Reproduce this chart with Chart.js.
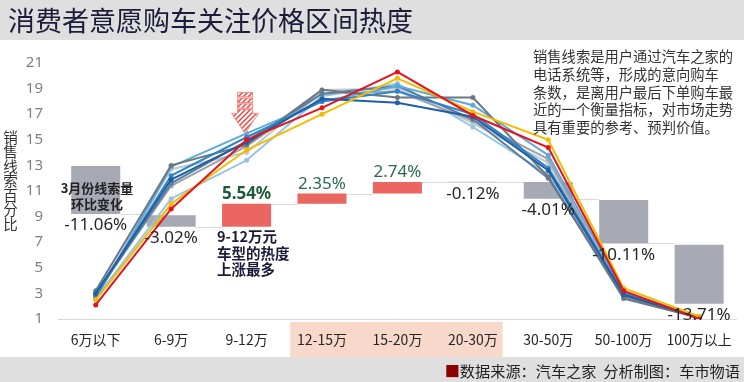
<!DOCTYPE html>
<html>
<head>
<meta charset="utf-8">
<script src="https://cdn.jsdelivr.net/npm/chart.js@4.4.1/dist/chart.umd.min.js"></script>
<style>
html,body{margin:0;padding:0;background:#fff;}
#wrap{position:relative;width:744px;height:382px;overflow:hidden;font-family:"Noto Sans CJK SC","Noto Sans",sans-serif;}
#titleBand{position:absolute;left:0;top:0;width:744px;height:40px;background:#DFDFDF;}
#footBand{position:absolute;left:0;top:357px;width:744px;height:25px;background:#DFDFDF;}
canvas{position:absolute;left:0;top:0;z-index:1;}
.txt{position:absolute;z-index:2;white-space:nowrap;}
#title{left:8px;top:1px;font-size:27px;line-height:37px;color:#1C1B3A;}
#foot{right:4px;top:358px;font-size:15.2px;line-height:24px;color:#222;}
#foot span{color:#8B0000;}
#ytitle{left:2px;top:130px;writing-mode:vertical-rl;text-orientation:upright;font-size:14.5px;line-height:16px;color:#333;}
#boxNote{left:50px;top:180px;width:94px;text-align:center;font-size:13px;line-height:16px;font-weight:bold;color:#222;}
#hotNote{left:217px;top:228px;font-size:14.5px;line-height:16.7px;font-weight:bold;color:#1A1A3A;}
#infoNote{left:533px;top:47px;font-size:14.3px;line-height:17.8px;color:#333;}
</style>
</head>
<body>
<div id="wrap">
  <div id="titleBand"></div>
  <div id="footBand"></div>
  <canvas id="c" width="744" height="382" style="width:744px;height:382px"></canvas>
  <div class="txt" id="title">消费者意愿购车关注价格区间热度</div>
  <div class="txt" id="foot"><span>■</span>数据来源：汽车之家&nbsp;&nbsp;分析制图：车市物语</div>
  <div class="txt" id="ytitle">销售线索百分比</div>
  <div class="txt" id="boxNote">3月份线索量<br>环比变化</div>
  <div class="txt" id="hotNote">9-12万元<br>车型的热度<br>上涨最多</div>
  <div class="txt" id="infoNote">销售线索是用户通过汽车之家的<br>电话系统等，形成的意向购车<br>条数，是离用户最后下单购车最<br>近的一个衡量指标，对市场走势<br>具有重要的参考、预判价值。</div>
</div>
<script>
// ---- data ----
const categories = ['6万以下','6-9万','9-12万','12-15万','15-20万','20-30万','30-50万','50-100万','100万以上'];
const yTicks = [1,3,5,7,9,11,13,15,17,19,21];

const seriesRed       = [2.1, 9.6, 15.0, 17.5, 20.3, 16.9, 14.4, 3.2, 1.0];
const seriesYellow    = [2.5, 10.0, 14.2, 17.0, 19.8, 17.2, 15.0, 3.4, 1.2];
const seriesDarkGray  = [3.2, 13.0, 14.6, 18.9, 18.3, 18.3, 12.1, 2.6, 1.1];
const seriesGray      = [3.0, 11.4, 14.5, 18.6, 18.8, 16.5, 13.5, 2.7, 1.1];
const seriesLightGray = [2.8, 12.7, 14.0, 18.9, 19.0, 16.3, 13.2, 2.8, 1.2];
const seriesDarkBlue  = [3.0, 11.9, 14.8, 18.2, 17.9, 16.8, 12.6, 2.9, 1.1];
const seriesBlue      = [2.8, 12.2, 15.2, 18.0, 18.8, 17.0, 12.8, 3.0, 1.1];
const seriesLightBlue = [2.6, 12.9, 15.5, 18.0, 19.2, 17.7, 13.8, 3.1, 1.2];
const seriesPaleBlue  = [2.6, 10.4, 13.4, 18.4, 19.4, 16.0, 12.3, 3.0, 1.2];
const seriesSteel     = [2.9, 11.6, 14.9, 18.6, 19.2, 16.6, 12.0, 2.8, 1.1];

const changePct  = [-11.06, -3.02, 5.54, 2.35, 2.74, -0.12, -4.01, -10.11, -13.71];
const changeLow  = [9.2, 8.2, 8.2, 10.0, 10.8, 11.67, 10.4, 6.9, 2.2];
const changeHigh = [12.95, 9.1, 10.0, 10.8, 11.7, 11.73, 11.7, 10.3, 6.8];
const hotRange = [3, 5];      // highlighted category band (index range)
const arrowCategory = 2;      // 9-12万
const arrowTipValue = 15.5;

// ---- build ----
const barData = changeLow.map((lo, i) => [lo, changeHigh[i]]);
const barColors = changePct.map(v => v >= 0 ? '#EC6661' : '#A7AAB4');

function lineDs(data, color, order){
  return {type:'line', data, borderColor:color, backgroundColor:color, borderWidth:2,
          pointRadius:2.5, pointBorderWidth:0, pointBackgroundColor:color, tension:0, order};
}

const pc = document.createElement('canvas'); pc.width = 5; pc.height = 5;
const pctx = pc.getContext('2d');
pctx.strokeStyle = '#E8463F'; pctx.lineWidth = 1.5;
pctx.beginPath();
pctx.moveTo(-1,1); pctx.lineTo(1,-1);
pctx.moveTo(0,5); pctx.lineTo(5,0);
pctx.moveTo(4,6); pctx.lineTo(6,4);
pctx.stroke();

const deco = {
  id:'deco',
  beforeDraw(chart){
    const {ctx, chartArea, scales:{x}} = chart;
    const step = x.getPixelForValue(1) - x.getPixelForValue(0);
    const x0 = x.getPixelForValue(hotRange[0]) - step/2 + 6;
    const x1 = x.getPixelForValue(hotRange[1]) + step/2 - 8;
    ctx.save();
    ctx.fillStyle = '#F7D8CA';
    ctx.fillRect(x0, chartArea.bottom + 3, x1 - x0, chart.height - 25 - chartArea.bottom - 3);
    ctx.restore();
  },
  beforeDatasetsDraw(chart){
    const {ctx, scales:{y}} = chart;
    const meta = chart.getDatasetMeta(0);
    ctx.save();
    ctx.strokeStyle = '#D9D9D9'; ctx.lineWidth = 1;
    for (let i = 0; i < meta.data.length - 1; i++){
      const a = meta.data[i], b = meta.data[i+1];
      const end = changePct[i] < 0 ? changeLow[i] : changeHigh[i];
      const yy = Math.round(y.getPixelForValue(end)) + 0.5;
      ctx.beginPath();
      ctx.moveTo(a.x + a.width/2, yy);
      ctx.lineTo(b.x - b.width/2, yy);
      ctx.stroke();
    }
    ctx.restore();
  },
  afterDatasetsDraw(chart){
    const {ctx, scales:{x, y}} = chart;
    const meta = chart.getDatasetMeta(0);
    const maxPct = Math.max(...changePct);
    ctx.save();
    ctx.textAlign = 'center';
    meta.data.forEach((bar, i) => {
      const v = changePct[i];
      const txt = v.toFixed(2) + '%';
      if (v >= 0){
        ctx.font = (v === maxPct ? 'bold ' : '') + '17px "Noto Sans", sans-serif';
        ctx.fillStyle = v === maxPct ? '#1E5B3C' : '#2B6A4C';
        ctx.textBaseline = 'bottom';
        ctx.fillText(txt, bar.x, y.getPixelForValue(changeHigh[i]) - 1);
      } else {
        ctx.font = '17px "Noto Sans", sans-serif';
        ctx.fillStyle = '#262626';
        ctx.textBaseline = 'top';
        ctx.fillText(txt, bar.x, y.getPixelForValue(changeLow[i]) + 3);
      }
    });
    // hatched arrow
    const cx = x.getPixelForValue(arrowCategory) - 1.5;
    const tip = y.getPixelForValue(arrowTipValue);
    const pat = ctx.createPattern(pc, 'repeat');
    ctx.lineWidth = 1; ctx.strokeStyle = '#F08A86';
    ctx.beginPath();
    ctx.moveTo(cx, tip);
    ctx.lineTo(cx - 13.5, tip - 20);
    ctx.lineTo(cx - 7.5, tip - 20);
    ctx.lineTo(cx - 7.5, tip - 24);
    ctx.lineTo(cx + 7.5, tip - 24);
    ctx.lineTo(cx + 7.5, tip - 20);
    ctx.lineTo(cx + 13.5, tip - 20);
    ctx.closePath();
    ctx.fillStyle = 'rgba(255,255,255,0.6)'; ctx.fill();
    ctx.fillStyle = pat; ctx.fill(); ctx.stroke();
    for (let k = 0; k < 3; k++){
      const top = tip - 41 + k*5.7;
      ctx.beginPath();
      ctx.rect(cx - 7.5, top, 15, 4.5);
      ctx.fillStyle = 'rgba(255,255,255,0.6)'; ctx.fill();
      ctx.fillStyle = pat; ctx.fill(); ctx.stroke();
    }
    ctx.restore();
  }
};

new Chart(document.getElementById('c'), {
  data: {
    labels: categories,
    datasets: [
      {type:'bar', data: barData, backgroundColor: barColors, borderWidth:0,
       barPercentage:0.65, categoryPercentage:1, order:100},
      lineDs(seriesPaleBlue,  '#93C3E8', 10),
      lineDs(seriesLightGray, '#C3C8CE', 9),
      lineDs(seriesGray,      '#9DA3AA', 8),
      lineDs(seriesSteel,     '#5B7D9E', 7),
      lineDs(seriesLightBlue, '#5AAAE0', 6),
      lineDs(seriesDarkGray,  '#6D7783', 5),
      lineDs(seriesBlue,      '#2F84C6', 4),
      lineDs(seriesDarkBlue,  '#1E5FA6', 3),
      lineDs(seriesYellow,    '#F4BC00', 2),
      lineDs(seriesRed,       '#E5141B', 1)
    ]
  },
  options: {
    responsive:false, devicePixelRatio:1, animation:false,
    layout:{padding:{top:63, left:0, right:4, bottom:0}},
    plugins:{legend:{display:false}, tooltip:{enabled:false}},
    scales:{
      x:{
        offset:true,
        grid:{display:false, drawTicks:false},
        border:{display:true, color:'#D9D9D9', width:1},
        ticks:{padding:12, color:'#262626', font:{family:'"Noto Sans CJK SC", "Noto Sans", sans-serif', size:14}, maxRotation:0, autoSkip:false},
        afterFit(s){ s.height = 63; }
      },
      y:{
        min:1, max:21,
        afterBuildTicks(s){ s.ticks = yTicks.map(v => ({value:v})); },
        grid:{display:false, drawTicks:false},
        border:{display:false},
        ticks:{padding:15, color:'#7F7F7F', font:{family:'"Noto Sans", sans-serif', size:15}},
        afterFit(s){ s.width = 58; }
      }
    }
  },
  plugins:[deco]
});
</script>
</body>
</html>
